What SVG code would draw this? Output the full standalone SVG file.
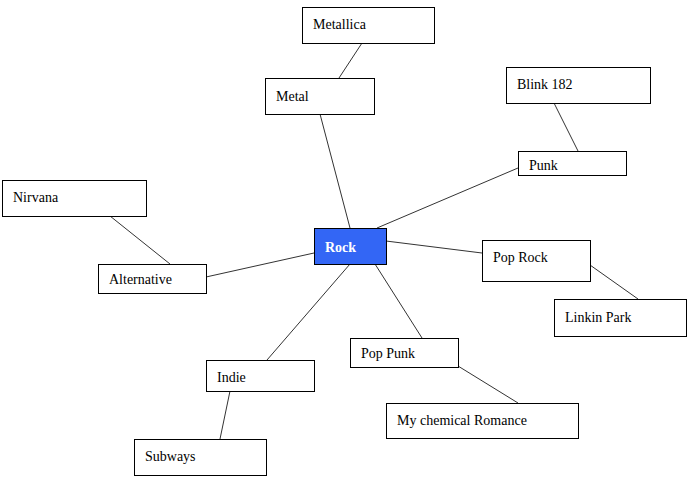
<svg xmlns="http://www.w3.org/2000/svg" width="699" height="489" viewBox="0 0 699 489">
<style>
rect.n{fill:#fff;stroke:#000;stroke-width:1}
text{font-family:"Liberation Serif",serif;font-size:14px;fill:#000}
#edges line{stroke:#333;stroke-width:1}
</style>
<rect width="699" height="489" fill="#fff"/>
<g id="edges">
<line x1="362" y1="43" x2="339" y2="78"/>
<line x1="320" y1="114" x2="350" y2="228"/>
<line x1="554" y1="103" x2="578" y2="151"/>
<line x1="518" y1="168" x2="377" y2="228"/>
<line x1="110" y1="216" x2="170" y2="264"/>
<line x1="206" y1="277" x2="314" y2="253"/>
<line x1="386" y1="241" x2="482" y2="253"/>
<line x1="590" y1="265" x2="638" y2="299"/>
<line x1="375" y1="264" x2="422" y2="338"/>
<line x1="458" y1="366" x2="518" y2="403"/>
<line x1="350" y1="264" x2="267" y2="360"/>
<line x1="230" y1="391" x2="220" y2="439"/>
</g>
<g id="metallica"><rect class="n" x="302.5" y="7.5" width="132" height="36"/><text x="313" y="29">Metallica</text></g>
<g id="metal"><rect class="n" x="265.5" y="78.5" width="109" height="36"/><text x="276" y="101">Metal</text></g>
<g id="blink"><rect class="n" x="506.5" y="67.5" width="144" height="36"/><text x="517" y="89">Blink 182</text></g>
<g id="punk"><rect class="n" x="518.5" y="151.5" width="108" height="24"/><text x="529" y="170" font-size="13">Punk</text></g>
<g id="nirvana"><rect class="n" x="2.5" y="180.5" width="144" height="36"/><text x="13" y="202">Nirvana</text></g>
<g id="alternative"><rect class="n" x="98.5" y="264.5" width="108" height="29"/><text x="109" y="284">Alternative</text></g>
<g id="rock"><rect x="314.5" y="228.5" width="72" height="36" fill="#3366f5" stroke="#000"/><text x="325" y="252" font-size="17" font-weight="bold" fill="#fff" style="fill:#fff">Rock</text></g>
<g id="poprock"><rect class="n" x="482.5" y="240.5" width="108" height="41"/><text x="493" y="262">Pop Rock</text></g>
<g id="linkin"><rect class="n" x="554.5" y="299.5" width="132" height="37"/><text x="565" y="322">Linkin Park</text></g>
<g id="poppunk"><rect class="n" x="350.5" y="338.5" width="108" height="29"/><text x="361" y="358">Pop Punk</text></g>
<g id="mcr"><rect class="n" x="386.5" y="403.5" width="192" height="35"/><text x="397" y="425">My chemical Romance</text></g>
<g id="indie"><rect class="n" x="206.5" y="360.5" width="108" height="31"/><text x="217" y="382">Indie</text></g>
<g id="subways"><rect class="n" x="134.5" y="439.5" width="132" height="36"/><text x="145" y="461">Subways</text></g>
</svg>
